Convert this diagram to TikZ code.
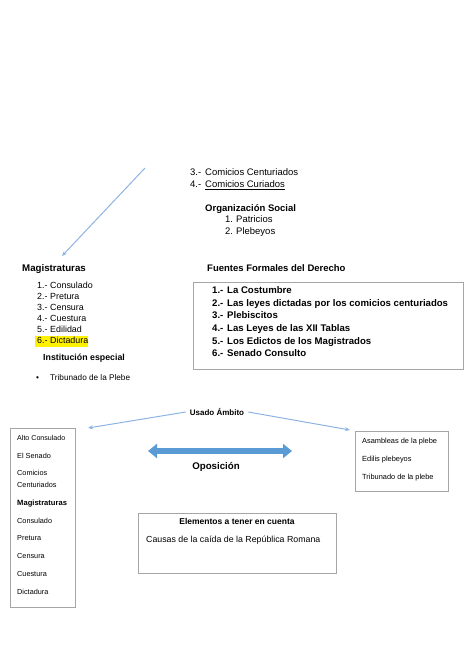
\documentclass[tikz,border=0pt]{standalone}
\usepackage{fontspec}
\setmainfont{Liberation Sans}
\usetikzlibrary{arrows.meta}
\definecolor{lblue}{HTML}{8DB3E2}
\definecolor{dblue}{HTML}{5B9BD5}
\definecolor{boxgray}{HTML}{A6A6A6}
\begin{document}
\begin{tikzpicture}[x=1pt,y=-1pt,
  base/.style={anchor=west,inner sep=0pt,text height=0.72em,text depth=0.2em},
  txt/.style={base,font=\fontsize{#1}{10}\selectfont},
  txt/.default=8.8,
  btxt/.style={base,font=\fontsize{#1}{10}\selectfont\bfseries},
  btxt/.default=9.5,
  frame/.style={draw=boxgray,line width=0.8pt},
  thinarrow/.style={draw=lblue,line width=1pt,-{Stealth[length=5pt,width=4pt]}}]
\useasboundingbox (0,0) rectangle (474,670);
% top list
\node[txt=9.5] (c3n) at (190,173) {3.-};
\node[txt=9.5] (c3) at (205,173) {Comicios Centuriados};
\node[txt=9.5] (c4n) at (190,185) {4.-};
\node[txt=9.5] (c4) at (205,185) {\underline{Comicios Curiados}};
\node[btxt=9.5] (org) at (205,209) {Organización Social};
\node[txt=9.5] (p1n) at (225,220) {1.};
\node[txt=9.5] (p1) at (236,220) {Patricios};
\node[txt=9.5] (p2n) at (225,232) {2.};
\node[txt=9.5] (p2) at (236,232) {Plebeyos};
\coordinate (topstart) at (145,168);
\coordinate (magtip) at (62,256);
\draw[thinarrow] (topstart) -- (magtip);
% Magistraturas
\node[btxt=9.7] (mag) at (22,269) {Magistraturas};
\fill[yellow] (35,336) rectangle (88,347);
\foreach \i/\t [count=\k] in {1/Consulado,2/Pretura,3/Censura,4/Cuestura,5/Edilidad,6/Dictadura}{
  \node[txt=8.9] (mn\k) at (37,{275+11*\k}) {\i.-};
  \node[txt=8.9] (m\k) at (50,{275+11*\k}) {\t};
}
\node[btxt=8.8] (inst) at (43,358) {Institución especial};
\node[txt=8.2] (bul) at (36,378) {\textbullet};
\node[txt=8.2] (trib) at (50,378) {Tribunado de la Plebe};
% Fuentes
\node[btxt=9.5] (fue) at (207,269) {Fuentes Formales del Derecho};
\draw[frame] (193,282) rectangle (463,369);
\foreach \t [count=\k] in {La Costumbre,Las leyes dictadas por los comicios centuriados,Plebiscitos,Las Leyes de las XII Tablas,Los Edictos de los Magistrados,Senado Consulto}{
  \node[btxt=9.6] (fn\k) at (212,{278.5+12.6*\k}) {\k.-};
  \node[btxt=9.6] (f\k) at (227,{278.5+12.6*\k}) {\t};
}
% middle
\node[btxt=8,anchor=center] (uso) at (217,413) {Usado Ámbito};
\coordinate (ltip) at (88,428);
\coordinate (rtip) at (350,430);
\draw[thinarrow] (uso.west) ++(-4,-1) -- (ltip);
\draw[thinarrow] (uso.east) ++(4,-1) -- (rtip);
\coordinate (da) at (148,451);
\coordinate (db) at (292,451);
\draw[dblue,line width=5.5pt,{Triangle[length=9pt,width=14pt]}-{Triangle[length=9pt,width=14pt]}] (da) -- (db);
\node[btxt=9.7,anchor=center] (opo) at (216,467) {Oposición};
% left box
\draw[frame] (10,428) rectangle (75,607);
\node[txt=7.1] (l1) at (17,438) {Alto Consulado};
\node[txt=7.3] (l2) at (17,456) {El Senado};
\node[txt=7.3] (l3) at (17,473) {Comicios};
\node[txt=7.3] (l3b) at (17,485) {Centuriados};
\node[btxt=7.6] (l4) at (17,503) {Magistraturas};
\node[txt=7.3] (l5) at (17,521) {Consulado};
\node[txt=7.3] (l6) at (17,538) {Pretura};
\node[txt=7.3] (l7) at (17,556) {Censura};
\node[txt=7.3] (l8) at (17,574) {Cuestura};
\node[txt=7.3] (l9) at (17,592) {Dictadura};
% right box
\draw[frame] (355,431) rectangle (448,491);
\node[txt=7.4] (r1) at (362,441) {Asambleas de la plebe};
\node[txt=7.4] (r2) at (362,459) {Edilis plebeyos};
\node[txt=7.4] (r3) at (362,477) {Tribunado de la plebe};
% bottom box
\draw[frame] (138,513) rectangle (336,573);
\node[btxt=8.5,anchor=center] (el) at (237,522) {Elementos a tener en cuenta};
\node[txt=8.8] (ca) at (146,540) {Causas de la caída de la República Romana};
\end{tikzpicture}
\end{document}
